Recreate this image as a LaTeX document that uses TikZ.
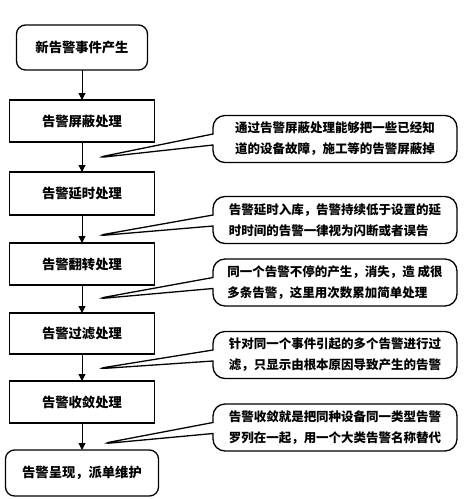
\documentclass[tikz,border=0pt]{standalone}
\usepackage{fontspec}
\setmainfont{Noto Sans CJK SC}
\usetikzlibrary{positioning, shapes.callouts, arrows.meta}

\tikzset{
  stepbox/.style={rectangle, draw, line width=1.3pt, outer sep=0pt, minimum width=145pt, minimum height=42pt,
    font=\fontsize{13.3}{17}\selectfont\bfseries},
  endbox/.style={stepbox, rounded corners=9pt},
  note/.style={rectangle callout, draw, line width=1.3pt, rounded corners=12pt,
    minimum width=244pt, minimum height=47pt, align=left, callout pointer width=11pt,
    font=\fontsize{12.5}{21}\selectfont\bfseries},
  flow/.style={-{Triangle[width=7pt,length=7pt]}, line width=1pt}
}

\begin{document}
\begin{tikzpicture}[x=1pt, y=-1pt, node distance=28pt]
\useasboundingbox (0,0) rectangle (474,499);

% main flow
\node[endbox, minimum width=131pt, minimum height=45pt] (new) at (82,47.5) {新告警事件产生};
\node[stepbox, below=30pt of new] (mask) {告警屏蔽处理};
\node[stepbox, below=30pt of mask, minimum height=43pt] (delay) {告警延时处理};
\node[stepbox, below=of delay] (flip) {告警翻转处理};
\node[stepbox, below=of flip, minimum height=41pt] (filter) {告警过滤处理};
\node[stepbox, below=27pt of filter] (conv) {告警收敛处理};
\node[endbox, below=27pt of conv, minimum width=153pt, minimum height=46pt] (show) {告警呈现，派单维护};

\draw[flow] (new) -- (mask);
\draw[flow] (mask) -- (delay);
\draw[flow] (delay) -- (flip);
\draw[flow] (flip) -- (filter);
\draw[flow] (filter) -- (conv);
\draw[flow] (conv) -- (show);

% notes
\coordinate (maskTip) at (95,158);
\coordinate (delayTip) at (95,236);
\coordinate (flipTip) at (95,299);
\coordinate (filterTip) at (95,369);
\coordinate (convTip) at (100,444);

\node[note, callout absolute pointer={(maskTip)}] (maskNote) at (335,139)
  {通过告警屏蔽处理能够把一些已经知\\道的设备故障，施工等的告警屏蔽掉};
\node[note, callout absolute pointer={(delayTip)}] (delayNote) at (335,220)
  {告警延时入库，告警持续低于设置的延\\时时间的告警一律视为闪断或者误告};
\node[note, callout absolute pointer={(flipTip)}] (flipNote) at (335,282.5)
  {同一个告警不停的产生，消失，造 成很\\多条告警，这里用次数累加简单处理};
\node[note, callout absolute pointer={(filterTip)}] (filterNote) at (335,355)
  {针对同一个事件引起的多个告警进行过\\滤，只显示由根本原因导致产生的告警};
\node[note, callout absolute pointer={(convTip)}] (convNote) at (335,427.5)
  {告警收敛就是把同种设备同一类型告警\\罗列在一起，用一个大类告警名称替代};
\end{tikzpicture}
\end{document}
